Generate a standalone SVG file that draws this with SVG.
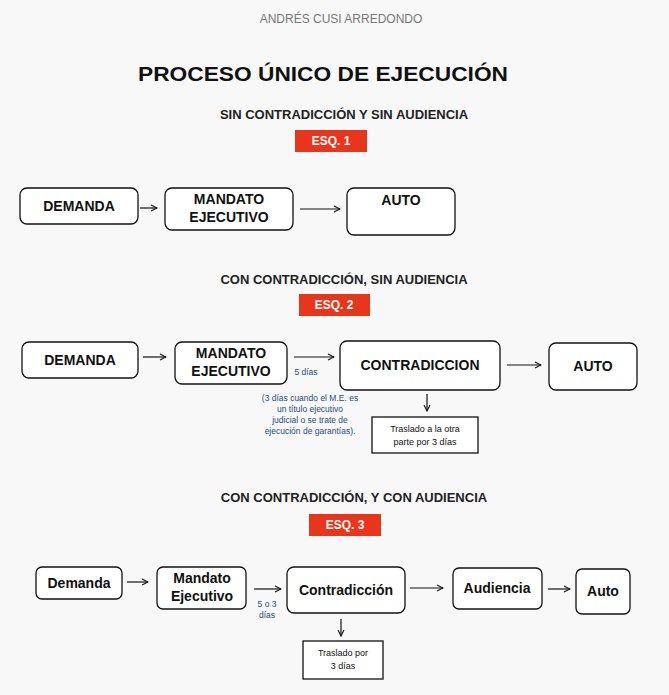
<svg xmlns="http://www.w3.org/2000/svg" width="669" height="695" viewBox="0 0 669 695">
<style>
text{font-family:"Liberation Sans",Arial,sans-serif;fill:#111}
.n{fill:#fff;stroke:#111;stroke-width:1.3}
.b{font-weight:bold;font-size:14px;text-anchor:middle}
.h{font-size:13px;text-anchor:middle;font-weight:bold;fill:#222}
.e{fill:#e8361c}
.et{fill:#fff;font-weight:bold;font-size:12px;text-anchor:middle}
.s{font-size:8.5px;fill:#2a4a7a;text-anchor:middle}
.t{font-size:9px;text-anchor:middle}
.c line{stroke:#111;stroke-width:1.2;marker-end:url(#a)}
</style>
<defs><marker id="a" markerWidth="8" markerHeight="8" refX="7" refY="4" orient="auto" markerUnits="userSpaceOnUse"><path d="M1,1 L7,4 L1,7" fill="none" stroke="#111" stroke-width="1.1"/></marker></defs>
<rect width="669" height="695" fill="#f8f8f8"/>
<text x="341" y="23" font-size="12" text-anchor="middle" style="fill:#777">ANDRÉS CUSI ARREDONDO</text>
<text x="138" y="81" font-size="21" font-weight="bold" textLength="370" lengthAdjust="spacingAndGlyphs">PROCESO ÚNICO DE EJECUCIÓN</text>
<text class="h" x="344" y="119">SIN CONTRADICCIÓN  Y SIN AUDIENCIA</text>
<rect class="e" x="295" y="130" width="72" height="22"/><text class="et" x="331" y="145">ESQ. 1</text>
<text class="h" x="344" y="284">CON CONTRADICCIÓN,  SIN AUDIENCIA</text>
<rect class="e" x="299" y="294" width="71" height="22"/><text class="et" x="334" y="309">ESQ. 2</text>
<text class="h" x="354" y="502">CON CONTRADICCIÓN,  Y CON AUDIENCIA</text>
<rect class="e" x="309" y="514" width="72" height="22"/><text class="et" x="345" y="529">ESQ. 3</text>

<g id="r1-demanda"><rect class="n" x="20" y="188" width="118" height="36" rx="7"/><text class="b" x="79" y="211">DEMANDA</text></g>
<g id="r1-mandato"><rect class="n" x="165" y="188" width="128" height="42" rx="7"/><text class="b" x="229" y="204">MANDATO</text><text class="b" x="229" y="222">EJECUTIVO</text></g>
<g id="r1-auto"><rect class="n" x="347" y="188" width="108" height="47" rx="7"/><text class="b" x="401" y="205">AUTO</text></g>

<g id="r2-demanda"><rect class="n" x="22" y="342" width="116" height="36" rx="7"/><text class="b" x="80" y="365">DEMANDA</text></g>
<g id="r2-mandato"><rect class="n" x="175" y="342" width="112" height="42" rx="7"/><text class="b" x="231" y="358">MANDATO</text><text class="b" x="231" y="376">EJECUTIVO</text></g>
<g id="r2-contra"><rect class="n" x="340" y="341" width="160" height="49" rx="7"/><text class="b" x="420" y="370">CONTRADICCION</text></g>
<g id="r2-auto"><rect class="n" x="549" y="343" width="88" height="47" rx="7"/><text class="b" x="593" y="371">AUTO</text></g>
<g id="r2-traslado"><rect class="n" x="372" y="417" width="106" height="36" rx="0"/><text class="t" x="425" y="432">Traslado a la otra</text><text class="t" x="425" y="445">parte por 3 días</text></g>
<text class="s" x="306" y="375">5 días</text>
<text class="s" x="310" y="401">(3 días cuando el M.E. es</text>
<text class="s" x="310" y="412">un título ejecutivo</text>
<text class="s" x="310" y="423">judicial o se trate de</text>
<text class="s" x="310" y="434">ejecución de garantías).</text>

<g id="r3-demanda"><rect class="n" x="36" y="567" width="86" height="32" rx="6"/><text class="b" x="79" y="588">Demanda</text></g>
<g id="r3-mandato"><rect class="n" x="157" y="567" width="89" height="42" rx="6"/><text class="b" x="202" y="583">Mandato</text><text class="b" x="202" y="601">Ejecutivo</text></g>
<g id="r3-contra"><rect class="n" x="287" y="567" width="118" height="46" rx="7"/><text class="b" x="346" y="595">Contradicción</text></g>
<g id="r3-aud"><rect class="n" x="453" y="568" width="89" height="41" rx="6"/><text class="b" x="497" y="593">Audiencia</text></g>
<g id="r3-auto"><rect class="n" x="576" y="569" width="54" height="45" rx="6"/><text class="b" x="603" y="596">Auto</text></g>
<g id="r3-traslado"><rect class="n" x="303" y="641" width="80" height="38"/><text class="t" x="343" y="656">Traslado por</text><text class="t" x="343" y="669">3 días</text></g>
<text class="s" x="267" y="607">5 o 3</text><text class="s" x="267" y="618">días</text>

<g class="c">
<line x1="140" y1="208" x2="157" y2="208"/>
<line x1="300" y1="209" x2="340" y2="209"/>
<line x1="143" y1="357" x2="166" y2="357"/>
<line x1="294" y1="357" x2="334" y2="357"/>
<line x1="507" y1="365" x2="541" y2="365"/>
<line x1="427" y1="394" x2="427" y2="411"/>
<line x1="127" y1="582" x2="148" y2="582"/>
<line x1="254" y1="589" x2="281" y2="589"/>
<line x1="410" y1="588" x2="443" y2="588"/>
<line x1="548" y1="589" x2="570" y2="589"/>
<line x1="341" y1="619" x2="341" y2="636"/>
</g>
</svg>
